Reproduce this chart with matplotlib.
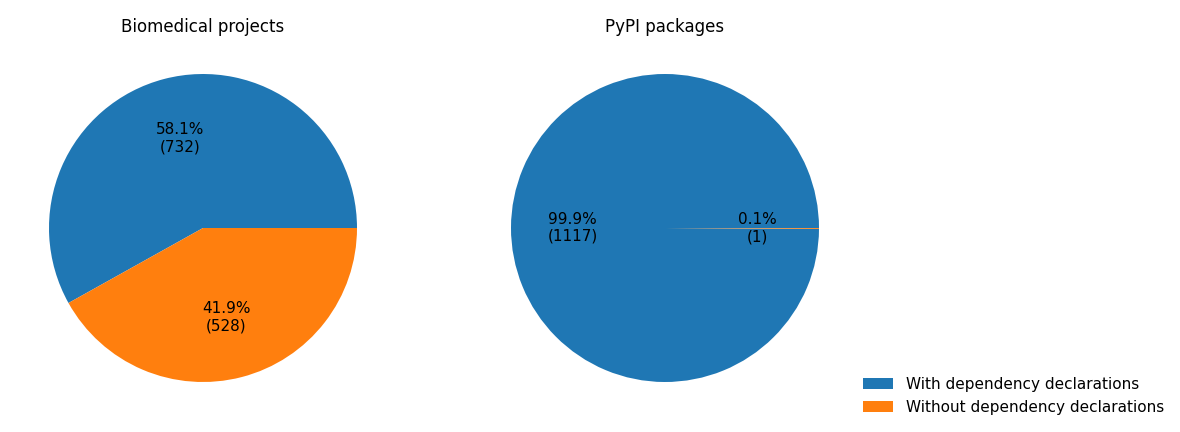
import matplotlib
matplotlib.use('Agg')
import matplotlib.pyplot as plt

# values
titles = ['Biomedical projects', 'PyPI packages']
with_deps = [732, 1117]
without_deps = [528, 1]
legend_labels = ['With dependency declarations', 'Without dependency declarations']
colors = ['#1f77b4', '#ff7f0e']


def make_autopct(values):
    total = sum(values)

    def fmt(pct):
        count = int(round(pct * total / 100.0))
        return f'{pct:.1f}%\n({count})'
    return fmt


fig = plt.figure(figsize=(11.8, 4.32), dpi=100)
W, H = 1180, 432
lefts = [49, 511]
size = 308

wedges = None
for i, left in enumerate(lefts):
    ax = fig.add_axes([left / W, 50 / H, size / W, size / H])
    vals = [with_deps[i], without_deps[i]]
    wedges, _, _ = ax.pie(vals, colors=colors, autopct=make_autopct(vals),
                          textprops={'fontsize': 11})
    ax.set_xlim(-1, 1)
    ax.set_ylim(-1, 1)
    ax.set_aspect('equal')
    ax.set_title(titles[i], fontsize=12, pad=30, family='DejaVu Sans')

fig.legend(wedges, legend_labels, loc='lower right', bbox_to_anchor=(0.998, 0.008),
           frameon=False, fontsize=11)

fig.savefig('out.png', dpi=100)
